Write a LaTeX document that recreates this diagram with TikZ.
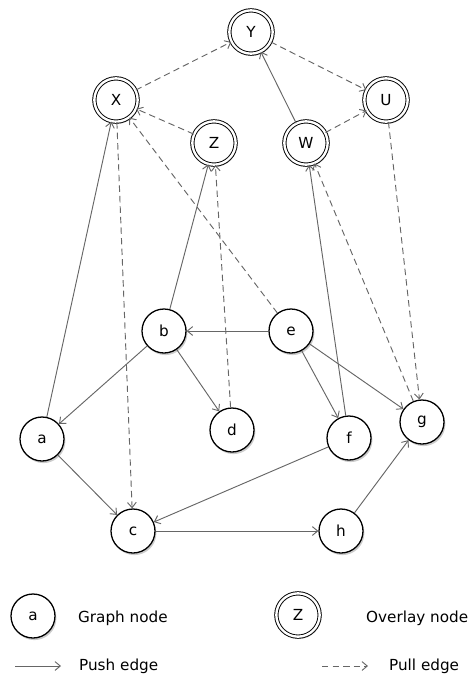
\documentclass[tikz,border=0pt]{standalone}
\usepackage{fontspec}
\setmainfont{DejaVu Sans}
\usetikzlibrary{arrows.meta,shadows}

\begin{document}
\begin{tikzpicture}[x=0.03cm,y=-0.03cm,
  font=\fontsize{13}{15}\selectfont,
  >={Straight Barb[length=4.5pt,width=7.5pt]},
  gnode/.style={circle,draw=black,line width=1.1pt,fill=white,minimum size=1.32cm,inner sep=0pt,
    drop shadow={shadow xshift=1.2pt,shadow yshift=-1.8pt,opacity=0.4}},
  onode/.style={circle,draw=black,line width=0.8pt,double=white,double distance=2pt,fill=white,
    minimum size=1.3cm,inner sep=0pt,
    drop shadow={shadow xshift=1.2pt,shadow yshift=-1.8pt,opacity=0.4}},
  push/.style={->,draw=black!60,line width=0.8pt},
  pull/.style={push,dash pattern=on 5.5pt off 3.5pt}]
\useasboundingbox (0,0) rectangle (474,677);

% overlay nodes
\node[onode] (Y) at (251,32) {Y};
\node[onode] (X) at (116,100) {X};
\node[onode] (U) at (386,100) {U};
\node[onode] (Z) at (214,143) {Z};
\node[onode] (W) at (306,143) {W};

% graph nodes
\node[gnode] (b) at (164,331) {b};
\node[gnode] (e) at (291,331) {e};
\node[gnode] (a) at (42,439) {a};
\node[gnode] (d) at (232,430) {d};
\node[gnode] (f) at (349,438) {f};
\node[gnode] (g) at (422,422) {g};
\node[gnode] (c) at (133,531) {c};
\node[gnode] (h) at (341,531) {h};

% push edges
\draw[push] (a) -- (X);
\draw[push] (b) -- (Z);
\draw[push] (f) -- (W);
\draw[push] (W) -- (Y);
\draw[push] (e) -- (b);
\draw[push] (b) -- (a);
\draw[push] (b) -- (d);
\draw[push] (e) -- (f);
\draw[push] (e) -- (g);
\draw[push] (a) -- (c);
\draw[push] (f) -- (c);
\draw[push] (c) -- (h);
\draw[push] (h) -- (g);

% pull edges
\draw[pull] (X) -- (Y);
\draw[pull] (Y) -- (U);
\draw[pull] (Z) -- (X);
\draw[pull] (W) -- (U);
\draw[pull] (e) -- (X);
\draw[pull] (X) -- (c);
\draw[pull] (d) -- (Z);
\draw[pull] (U) -- (g);
\draw[pull] (g) -- (W);

% legend
\node[gnode] (la) at (33,616) {a};
\node[anchor=west] (lat) at (74,618) {Graph node};
\node[onode] (lz) at (298,615) {Z};
\node[anchor=west] (lzt) at (362,618) {Overlay node};
\coordinate (ps) at (15,666);
\coordinate (pe) at (61,666);
\draw[push] (ps) -- (pe);
\node[anchor=west] (pst) at (75,666) {Push edge};
\coordinate (ls) at (322,666);
\coordinate (le) at (368,666);
\draw[pull] (ls) -- (le);
\node[anchor=west] (lst) at (385,666) {Pull edge};
\end{tikzpicture}
\end{document}
